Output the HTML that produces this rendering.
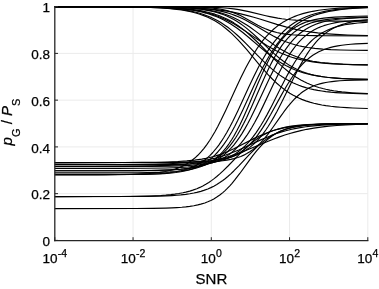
<!DOCTYPE html>
<html><head><meta charset="utf-8"><style>
html,body{margin:0;padding:0;background:#fff;}
body{width:379px;height:289px;overflow:hidden;}
svg{display:block;}
text{font-family:"Liberation Sans",Arial,Helvetica,sans-serif;fill:#000;stroke:#000;stroke-width:0.25px;}
</style></head><body>
<svg width="379" height="289" viewBox="0 0 379 289">
<rect width="379" height="289" fill="#fff"/>
<g stroke="#ebebeb" stroke-width="1" fill="none">
<line x1="54.8" y1="193.65" x2="367.80" y2="193.65"/>
<line x1="54.8" y1="146.90" x2="367.80" y2="146.90"/>
<line x1="54.8" y1="100.15" x2="367.80" y2="100.15"/>
<line x1="54.8" y1="53.40" x2="367.80" y2="53.40"/>
<line x1="54.8" y1="6.65" x2="367.80" y2="6.65"/>
<line x1="133.05" y1="240.40" x2="133.05" y2="6.65"/>
<line x1="211.30" y1="240.40" x2="211.30" y2="6.65"/>
<line x1="289.55" y1="240.40" x2="289.55" y2="6.65"/>
<line x1="367.80" y1="240.40" x2="367.80" y2="6.65"/>
</g>
<g stroke="#000" stroke-width="1.15" fill="none" stroke-linejoin="round">
<path d="M54.80,6.65 L367.80,6.65"/>
<path d="M54.80,6.65 L147.80,6.66 L178.80,6.72 L199.80,6.92 L207.80,7.10 L214.80,7.36 L221.80,7.77 L227.80,8.26 L233.80,8.94 L238.80,9.67 L243.80,10.57 L248.80,11.61 L265.80,15.69 L269.80,16.59 L273.80,17.40 L277.80,18.12 L281.80,18.74 L285.80,19.25 L290.80,19.77 L295.80,20.17 L301.80,20.51 L308.80,20.79 L315.80,20.96 L334.80,21.18 L367.80,21.25"/>
<path d="M54.80,6.65 L127.80,6.72 L147.80,6.82 L163.80,6.99 L177.80,7.27 L189.80,7.68 L200.80,8.27 L209.80,8.97 L217.80,9.82 L225.80,10.92 L233.80,12.34 L240.80,13.84 L246.80,15.33 L253.80,17.27 L259.80,19.06 L276.80,24.33 L285.80,26.90 L290.80,28.17 L295.80,29.33 L300.80,30.35 L305.80,31.25 L311.80,32.17 L317.80,32.92 L324.80,33.63 L331.80,34.18 L339.80,34.65 L347.80,34.99 L356.80,35.27 L367.80,35.49"/>
<path d="M54.80,6.65 L149.80,6.66 L178.80,6.75 L189.80,6.89 L197.80,7.10 L204.80,7.43 L210.80,7.87 L216.80,8.56 L219.80,9.02 L222.80,9.58 L225.80,10.26 L227.80,10.79 L230.80,11.70 L232.80,12.38 L236.80,13.96 L238.80,14.85 L241.80,16.31 L245.80,18.43 L257.80,25.16 L261.80,27.18 L264.80,28.54 L268.80,30.12 L272.80,31.43 L276.80,32.49 L280.80,33.32 L285.80,34.09 L291.80,34.73 L297.80,35.15 L305.80,35.48 L314.80,35.67 L325.80,35.79 L367.80,35.87"/>
<path d="M54.80,6.65 L136.80,6.70 L156.80,6.80 L170.80,6.98 L183.80,7.31 L193.80,7.78 L202.80,8.46 L206.80,8.89 L210.80,9.40 L214.80,10.02 L217.80,10.57 L221.80,11.42 L224.80,12.17 L228.80,13.31 L231.80,14.29 L234.80,15.39 L237.80,16.59 L242.80,18.85 L245.80,20.35 L248.80,21.94 L254.80,25.35 L268.80,33.62 L272.80,35.83 L276.80,37.88 L281.80,40.19 L285.80,41.81 L290.80,43.56 L295.80,45.01 L298.80,45.75 L301.80,46.40 L307.80,47.46 L314.80,48.38 L322.80,49.10 L330.80,49.58 L340.80,49.95 L352.80,50.20 L367.80,50.36"/>
<path d="M54.80,6.65 L134.80,6.73 L154.80,6.88 L169.80,7.14 L182.80,7.61 L188.80,7.96 L193.80,8.33 L198.80,8.81 L202.80,9.28 L206.80,9.85 L210.80,10.54 L214.80,11.37 L218.80,12.35 L222.80,13.50 L225.80,14.50 L229.80,16.02 L232.80,17.31 L235.80,18.73 L238.80,20.28 L243.80,23.17 L246.80,25.08 L249.80,27.09 L255.80,31.39 L266.80,39.65 L270.80,42.58 L274.80,45.37 L278.80,47.98 L283.80,50.94 L287.80,53.04 L289.80,54.00 L292.80,55.33 L297.80,57.26 L300.80,58.25 L303.80,59.13 L306.80,59.92 L309.80,60.60 L312.80,61.21 L316.80,61.89 L320.80,62.46 L324.80,62.94 L332.80,63.65 L342.80,64.22 L353.80,64.59 L367.80,64.85"/>
<path d="M54.80,6.65 L136.80,6.74 L156.80,6.91 L171.80,7.23 L178.80,7.49 L184.80,7.80 L190.80,8.22 L195.80,8.68 L200.80,9.27 L204.80,9.86 L208.80,10.58 L212.80,11.44 L216.80,12.48 L219.80,13.40 L223.80,14.81 L226.80,16.03 L230.80,17.91 L233.80,19.51 L236.80,21.28 L239.80,23.22 L242.80,25.35 L245.80,27.64 L248.80,30.10 L251.80,32.70 L256.80,37.28 L267.80,47.84 L271.80,51.58 L275.80,55.15 L279.80,58.47 L282.80,60.78 L284.80,62.23 L288.80,64.89 L290.80,66.10 L293.80,67.77 L295.80,68.79 L298.80,70.19 L301.80,71.42 L304.80,72.52 L307.80,73.49 L310.80,74.33 L313.80,75.07 L317.80,75.91 L320.80,76.44 L324.80,77.04 L328.80,77.53 L332.80,77.93 L337.80,78.34 L342.80,78.65 L353.80,79.11 L367.80,79.42"/>
<path d="M54.80,6.65 L102.80,6.70 L130.80,6.82 L150.80,7.07 L158.80,7.25 L166.80,7.52 L173.80,7.86 L180.80,8.31 L186.80,8.83 L191.80,9.39 L196.80,10.07 L201.80,10.93 L206.80,11.98 L210.80,12.99 L214.80,14.17 L218.80,15.55 L222.80,17.16 L226.80,19.00 L230.80,21.11 L233.80,22.87 L237.80,25.48 L240.80,27.62 L243.80,29.92 L246.80,32.39 L249.80,34.99 L252.80,37.73 L258.80,43.52 L270.80,55.67 L274.80,59.63 L279.80,64.37 L283.80,67.92 L288.80,72.00 L291.80,74.24 L293.80,75.64 L295.80,76.97 L298.80,78.83 L300.80,79.98 L303.80,81.57 L306.80,83.02 L309.80,84.32 L312.80,85.49 L315.80,86.53 L318.80,87.47 L322.80,88.55 L325.80,89.26 L329.80,90.07 L333.80,90.76 L337.80,91.34 L341.80,91.83 L346.80,92.33 L351.80,92.74 L356.80,93.06 L367.80,93.55"/>
<path d="M54.80,6.66 L96.80,6.69 L122.80,6.78 L141.80,6.97 L156.80,7.29 L169.80,7.82 L175.80,8.20 L180.80,8.59 L185.80,9.09 L189.80,9.57 L194.80,10.29 L198.80,10.99 L202.80,11.81 L206.80,12.77 L210.80,13.88 L213.80,14.82 L217.80,16.24 L220.80,17.43 L224.80,19.18 L227.80,20.63 L230.80,22.18 L233.80,23.85 L239.80,27.46 L245.80,31.38 L256.80,38.90 L261.80,42.24 L266.80,45.42 L270.80,47.80 L275.80,50.52 L280.80,52.94 L285.80,55.05 L288.80,56.17 L291.80,57.19 L294.80,58.10 L297.80,58.93 L300.80,59.66 L304.80,60.52 L308.80,61.25 L312.80,61.88 L316.80,62.40 L320.80,62.85 L329.80,63.60 L340.80,64.19 L352.80,64.58 L367.80,64.83"/>
<path d="M54.80,6.66 L99.80,6.70 L125.80,6.81 L144.80,7.05 L159.80,7.45 L166.80,7.75 L172.80,8.11 L178.80,8.57 L183.80,9.06 L188.80,9.68 L192.80,10.27 L197.80,11.18 L201.80,12.05 L205.80,13.07 L209.80,14.26 L213.80,15.64 L216.80,16.81 L220.80,18.57 L223.80,20.05 L227.80,22.24 L230.80,24.04 L233.80,25.98 L236.80,28.05 L239.80,30.25 L242.80,32.56 L248.80,37.45 L259.80,46.85 L264.80,51.03 L269.80,55.02 L273.80,57.99 L278.80,61.41 L283.80,64.44 L285.80,65.55 L288.80,67.09 L291.80,68.49 L294.80,69.77 L297.80,70.92 L300.80,71.95 L303.80,72.88 L307.80,73.96 L310.80,74.66 L314.80,75.48 L318.80,76.17 L322.80,76.75 L326.80,77.24 L331.80,77.74 L336.80,78.14 L341.80,78.46 L353.80,78.99 L367.80,79.33"/>
<path d="M54.80,6.66 L96.80,6.71 L122.80,6.84 L141.80,7.12 L149.80,7.33 L156.80,7.60 L163.80,7.96 L169.80,8.38 L175.80,8.93 L180.80,9.51 L185.80,10.24 L190.80,11.15 L194.80,12.02 L198.80,13.05 L202.80,14.26 L206.80,15.68 L210.80,17.32 L213.80,18.72 L217.80,20.81 L220.80,22.57 L224.80,25.17 L227.80,27.32 L230.80,29.63 L233.80,32.11 L236.80,34.73 L239.80,37.49 L245.80,43.35 L257.80,55.64 L262.80,60.64 L267.80,65.37 L271.80,68.89 L274.80,71.37 L276.80,72.92 L279.80,75.12 L281.80,76.50 L283.80,77.80 L286.80,79.61 L289.80,81.25 L292.80,82.75 L295.80,84.09 L298.80,85.30 L301.80,86.38 L305.80,87.64 L309.80,88.71 L313.80,89.62 L317.80,90.39 L321.80,91.03 L325.80,91.58 L330.80,92.14 L335.80,92.58 L340.80,92.94 L346.80,93.27 L352.80,93.52 L367.80,93.92"/>
<path d="M54.80,6.66 L97.80,6.72 L123.80,6.88 L142.80,7.20 L150.80,7.45 L157.80,7.76 L164.80,8.19 L170.80,8.69 L176.80,9.33 L181.80,10.02 L186.80,10.88 L190.80,11.71 L195.80,12.98 L199.80,14.19 L203.80,15.61 L207.80,17.28 L211.80,19.21 L214.80,20.85 L218.80,23.32 L221.80,25.38 L225.80,28.44 L228.80,30.96 L231.80,33.67 L234.80,36.57 L237.80,39.64 L240.80,42.87 L246.80,49.72 L258.80,64.06 L262.80,68.74 L267.80,74.31 L271.80,78.49 L274.80,81.42 L276.80,83.27 L279.80,85.89 L281.80,87.52 L283.80,89.07 L286.80,91.23 L289.80,93.21 L292.80,94.99 L295.80,96.61 L298.80,98.06 L301.80,99.35 L305.80,100.86 L309.80,102.16 L313.80,103.25 L317.80,104.18 L321.80,104.96 L325.80,105.62 L330.80,106.29 L335.80,106.83 L340.80,107.26 L346.80,107.66 L352.80,107.97 L359.80,108.23 L367.80,108.45"/>
<path d="M54.80,208.61 L135.80,208.54 L152.80,208.41 L165.80,208.14 L171.80,207.91 L176.80,207.64 L181.80,207.28 L185.80,206.89 L189.80,206.39 L193.80,205.74 L197.80,204.93 L200.80,204.17 L204.80,202.93 L207.80,201.80 L210.80,200.47 L213.80,198.91 L216.80,197.09 L219.80,195.00 L222.80,192.60 L224.80,190.83 L226.80,188.93 L229.80,185.81 L231.80,183.56 L234.80,179.97 L239.80,173.47 L248.80,161.06 L252.80,155.70 L256.80,150.66 L258.80,148.30 L260.80,146.07 L263.80,142.98 L265.80,141.09 L267.80,139.33 L269.80,137.72 L271.80,136.24 L274.80,134.26 L276.80,133.10 L279.80,131.55 L282.80,130.24 L285.80,129.12 L288.80,128.18 L291.80,127.39 L294.80,126.73 L298.80,126.01 L302.80,125.45 L307.80,124.93 L311.80,124.61 L316.80,124.31 L322.80,124.06 L328.80,123.88 L344.80,123.65 L367.80,123.55"/>
<path d="M54.80,196.57 L96.80,196.54 L119.80,196.46 L136.80,196.29 L149.80,195.97 L160.80,195.46 L165.80,195.10 L170.80,194.62 L174.80,194.14 L178.80,193.54 L182.80,192.80 L185.80,192.14 L189.80,191.09 L192.80,190.16 L196.80,188.69 L199.80,187.40 L202.80,185.94 L205.80,184.28 L208.80,182.43 L211.80,180.38 L213.80,178.89 L216.80,176.50 L219.80,173.91 L222.80,171.15 L227.80,166.24 L237.80,155.89 L241.80,151.85 L246.80,147.08 L250.80,143.59 L253.80,141.20 L255.80,139.72 L257.80,138.32 L260.80,136.40 L262.80,135.24 L265.80,133.65 L268.80,132.25 L271.80,131.01 L274.80,129.94 L278.80,128.72 L281.80,127.95 L285.80,127.09 L289.80,126.39 L293.80,125.83 L297.80,125.37 L302.80,124.92 L307.80,124.58 L313.80,124.28 L326.80,123.88 L343.80,123.66 L367.80,123.56"/>
<path d="M54.80,196.57 L128.80,196.49 L146.80,196.34 L159.80,196.07 L165.80,195.86 L171.80,195.56 L176.80,195.22 L180.80,194.87 L185.80,194.31 L189.80,193.73 L193.80,193.01 L196.80,192.36 L200.80,191.33 L203.80,190.40 L207.80,188.93 L210.80,187.64 L213.80,186.16 L216.80,184.48 L219.80,182.59 L222.80,180.48 L224.80,178.96 L227.80,176.49 L230.80,173.82 L233.80,170.97 L238.80,165.89 L248.80,155.22 L252.80,151.08 L256.80,147.17 L260.80,143.57 L263.80,141.11 L265.80,139.59 L267.80,138.16 L270.80,136.20 L272.80,135.02 L275.80,133.41 L277.80,132.44 L280.80,131.15 L283.80,130.03 L286.80,129.05 L289.80,128.22 L293.80,127.28 L296.80,126.70 L300.80,126.06 L304.80,125.54 L309.80,125.04 L314.80,124.66 L319.80,124.37 L331.80,123.95 L346.80,123.70 L367.80,123.58"/>
<path d="M54.80,162.56 L123.80,162.50 L141.80,162.41 L155.80,162.24 L167.80,161.95 L177.80,161.53 L186.80,160.92 L194.80,160.10 L201.80,159.08 L205.80,158.34 L208.80,157.69 L212.80,156.70 L215.80,155.86 L218.80,154.92 L221.80,153.88 L224.80,152.75 L227.80,151.52 L233.80,148.81 L238.80,146.35 L253.80,138.62 L258.80,136.23 L262.80,134.46 L267.80,132.48 L272.80,130.77 L277.80,129.32 L280.80,128.57 L283.80,127.91 L286.80,127.32 L290.80,126.65 L297.80,125.73 L305.80,124.99 L313.80,124.49 L323.80,124.10 L334.80,123.84 L348.80,123.68 L367.80,123.58"/>
<path d="M54.80,164.66 L120.80,164.56 L139.80,164.41 L154.80,164.17 L167.80,163.78 L178.80,163.23 L187.80,162.54 L192.80,162.03 L196.80,161.54 L200.80,160.98 L204.80,160.32 L208.80,159.55 L211.80,158.91 L215.80,157.95 L218.80,157.15 L222.80,155.96 L225.80,154.99 L231.80,152.82 L238.80,149.96 L244.80,147.29 L260.80,139.88 L265.80,137.70 L270.80,135.66 L275.80,133.81 L280.80,132.15 L285.80,130.70 L291.80,129.22 L294.80,128.59 L298.80,127.83 L305.80,126.75 L313.80,125.82 L321.80,125.15 L330.80,124.61 L340.80,124.22 L352.80,123.93 L367.80,123.73"/>
<path d="M54.80,166.52 L92.80,166.47 L118.80,166.36 L137.80,166.16 L153.80,165.84 L167.80,165.35 L179.80,164.67 L189.80,163.84 L194.80,163.30 L199.80,162.67 L207.80,161.42 L211.80,160.67 L215.80,159.83 L219.80,158.90 L223.80,157.87 L227.80,156.74 L231.80,155.51 L238.80,153.13 L245.80,150.49 L251.80,148.08 L268.80,141.01 L273.80,139.03 L278.80,137.15 L284.80,135.07 L289.80,133.50 L294.80,132.08 L300.80,130.59 L306.80,129.31 L313.80,128.08 L320.80,127.08 L328.80,126.19 L336.80,125.50 L345.80,124.94 L355.80,124.49 L367.80,124.14"/>
<path d="M54.80,174.71 L96.80,174.66 L119.80,174.49 L128.80,174.33 L135.80,174.13 L142.80,173.84 L148.80,173.47 L154.80,172.94 L159.80,172.35 L164.80,171.55 L169.80,170.50 L173.80,169.43 L177.80,168.09 L179.80,167.31 L181.80,166.44 L184.80,164.95 L186.80,163.83 L188.80,162.59 L191.80,160.48 L194.80,158.06 L197.80,155.29 L200.80,152.14 L203.80,148.58 L206.80,144.61 L209.80,140.20 L211.80,137.03 L214.80,131.92 L217.80,126.42 L220.80,120.58 L225.80,110.22 L236.80,86.33 L240.80,77.86 L243.80,71.76 L245.80,67.85 L248.80,62.23 L250.80,58.67 L253.80,53.62 L256.80,48.94 L258.80,46.02 L261.80,41.95 L264.80,38.23 L267.80,34.85 L270.80,31.80 L273.80,29.04 L276.80,26.57 L278.80,25.06 L280.80,23.66 L282.80,22.36 L284.80,21.16 L288.80,19.01 L292.80,17.17 L294.80,16.35 L297.80,15.24 L302.80,13.66 L307.80,12.36 L312.80,11.31 L318.80,10.29 L324.80,9.50 L331.80,8.78 L339.80,8.19 L347.80,7.76 L356.80,7.41 L367.80,7.14"/>
<path d="M54.80,174.71 L103.80,174.67 L128.80,174.53 L138.80,174.38 L146.80,174.18 L153.80,173.90 L159.80,173.56 L165.80,173.07 L170.80,172.52 L175.80,171.79 L180.80,170.81 L183.80,170.08 L185.80,169.53 L189.80,168.21 L193.80,166.59 L196.80,165.12 L198.80,164.02 L200.80,162.80 L203.80,160.72 L206.80,158.34 L209.80,155.60 L212.80,152.50 L215.80,148.99 L218.80,145.06 L221.80,140.70 L223.80,137.55 L226.80,132.49 L229.80,127.03 L232.80,121.22 L237.80,110.91 L248.80,87.03 L253.80,76.47 L256.80,70.43 L258.80,66.55 L262.80,59.23 L265.80,54.15 L268.80,49.43 L270.80,46.48 L273.80,42.37 L275.80,39.83 L278.80,36.30 L281.80,33.11 L284.80,30.22 L287.80,27.63 L289.80,26.04 L291.80,24.57 L294.80,22.56 L298.80,20.22 L302.80,18.20 L306.80,16.48 L310.80,15.01 L315.80,13.47 L320.80,12.21 L325.80,11.18 L331.80,10.19 L337.80,9.42 L343.80,8.81 L350.80,8.27 L358.80,7.82 L367.80,7.46"/>
<path d="M54.80,174.71 L105.80,174.68 L131.80,174.54 L141.80,174.41 L149.80,174.22 L156.80,173.97 L163.80,173.59 L169.80,173.12 L175.80,172.46 L180.80,171.71 L185.80,170.71 L188.80,169.96 L190.80,169.39 L194.80,168.04 L196.80,167.25 L198.80,166.38 L201.80,164.88 L203.80,163.75 L205.80,162.50 L208.80,160.38 L211.80,157.94 L214.80,155.15 L217.80,151.98 L220.80,148.41 L223.80,144.41 L226.80,139.99 L228.80,136.80 L231.80,131.68 L234.80,126.16 L237.80,120.30 L242.80,109.93 L253.80,86.03 L257.80,77.58 L260.80,71.49 L262.80,67.58 L266.80,60.18 L269.80,55.04 L271.80,51.80 L273.80,48.73 L276.80,44.43 L278.80,41.77 L281.80,38.07 L284.80,34.71 L287.80,31.67 L290.80,28.92 L292.80,27.25 L294.80,25.70 L297.80,23.57 L301.80,21.08 L305.80,18.94 L309.80,17.11 L313.80,15.54 L318.80,13.91 L323.80,12.57 L328.80,11.47 L333.80,10.58 L339.80,9.72 L345.80,9.05 L352.80,8.45 L359.80,8.00 L367.80,7.62"/>
<path d="M54.80,172.85 L110.80,172.82 L137.80,172.71 L155.80,172.43 L162.80,172.21 L169.80,171.88 L175.80,171.46 L181.80,170.85 L186.80,170.16 L191.80,169.22 L195.80,168.25 L199.80,167.03 L203.80,165.50 L206.80,164.11 L208.80,163.05 L210.80,161.88 L213.80,159.86 L216.80,157.51 L219.80,154.80 L222.80,151.67 L225.80,148.10 L228.80,144.05 L231.80,139.51 L233.80,136.20 L236.80,130.83 L239.80,124.98 L242.80,118.70 L244.80,114.31 L247.80,107.47 L257.80,83.80 L261.80,74.63 L265.80,66.00 L267.80,61.95 L269.80,58.09 L272.80,52.71 L274.80,49.40 L276.80,46.32 L278.80,43.45 L280.80,40.80 L282.80,38.36 L284.80,36.13 L287.80,33.14 L290.80,30.54 L293.80,28.31 L296.80,26.39 L299.80,24.75 L302.80,23.36 L306.80,21.83 L310.80,20.61 L314.80,19.63 L318.80,18.86 L323.80,18.12 L328.80,17.57 L334.80,17.09 L341.80,16.72 L348.80,16.47 L357.80,16.27 L367.80,16.15"/>
<path d="M54.80,170.74 L111.80,170.72 L138.80,170.62 L157.80,170.35 L164.80,170.15 L171.80,169.84 L177.80,169.45 L183.80,168.90 L188.80,168.26 L193.80,167.41 L198.80,166.28 L202.80,165.11 L206.80,163.65 L209.80,162.33 L211.80,161.32 L213.80,160.20 L216.80,158.28 L218.80,156.84 L220.80,155.24 L223.80,152.54 L226.80,149.44 L229.80,145.92 L232.80,141.93 L235.80,137.48 L237.80,134.24 L240.80,128.99 L243.80,123.29 L246.80,117.18 L251.80,106.29 L260.80,85.67 L264.80,76.71 L268.80,68.21 L270.80,64.20 L272.80,60.38 L275.80,55.01 L277.80,51.68 L279.80,48.58 L281.80,45.68 L283.80,42.99 L286.80,39.35 L288.80,37.16 L291.80,34.23 L294.80,31.68 L297.80,29.48 L300.80,27.59 L303.80,25.97 L306.80,24.59 L310.80,23.06 L314.80,21.84 L318.80,20.87 L322.80,20.09 L327.80,19.34 L332.80,18.79 L337.80,18.37 L343.80,18.01 L350.80,17.72 L358.80,17.51 L367.80,17.37"/>
<path d="M54.80,170.74 L111.80,170.71 L139.80,170.59 L150.80,170.46 L159.80,170.27 L166.80,170.05 L173.80,169.71 L180.80,169.22 L186.80,168.61 L191.80,167.92 L196.80,167.03 L201.80,165.85 L205.80,164.66 L209.80,163.19 L211.80,162.33 L213.80,161.39 L215.80,160.34 L217.80,159.19 L220.80,157.24 L222.80,155.78 L224.80,154.18 L227.80,151.50 L230.80,148.46 L233.80,145.03 L236.80,141.19 L239.80,136.93 L241.80,133.86 L244.80,128.89 L247.80,123.53 L250.80,117.81 L255.80,107.62 L266.80,83.94 L270.80,75.56 L274.80,67.63 L278.80,60.28 L281.80,55.22 L283.80,52.07 L285.80,49.12 L287.80,46.35 L289.80,43.77 L291.80,41.37 L293.80,39.15 L296.80,36.15 L299.80,33.50 L302.80,31.18 L305.80,29.17 L308.80,27.42 L311.80,25.91 L315.80,24.22 L318.80,23.16 L322.80,21.99 L326.80,21.04 L330.80,20.27 L335.80,19.52 L340.80,18.95 L346.80,18.44 L352.80,18.08 L359.80,17.78 L367.80,17.56"/>
<path d="M54.80,168.40 L116.80,168.38 L145.80,168.27 L165.80,167.99 L173.80,167.75 L180.80,167.44 L187.80,166.97 L193.80,166.39 L198.80,165.73 L203.80,164.87 L208.80,163.73 L212.80,162.58 L216.80,161.15 L218.80,160.32 L220.80,159.41 L222.80,158.39 L224.80,157.27 L227.80,155.37 L229.80,153.94 L231.80,152.38 L234.80,149.76 L237.80,146.78 L240.80,143.41 L243.80,139.64 L246.80,135.45 L248.80,132.42 L251.80,127.54 L254.80,122.27 L257.80,116.64 L262.80,106.62 L272.80,85.51 L276.80,77.26 L280.80,69.41 L284.80,62.13 L287.80,57.11 L289.80,53.99 L291.80,51.06 L293.80,48.31 L295.80,45.75 L297.80,43.37 L299.80,41.16 L302.80,38.18 L304.80,36.39 L307.80,33.99 L310.80,31.90 L313.80,30.08 L316.80,28.52 L318.80,27.60 L320.80,26.77 L323.80,25.67 L327.80,24.45 L331.80,23.47 L335.80,22.68 L339.80,22.04 L344.80,21.42 L349.80,20.95 L354.80,20.59 L360.80,20.28 L367.80,20.02"/>
<path d="M54.80,166.53 L119.80,166.51 L149.80,166.41 L170.80,166.13 L178.80,165.91 L185.80,165.62 L192.80,165.19 L199.80,164.57 L205.80,163.81 L210.80,162.97 L215.80,161.88 L219.80,160.78 L223.80,159.43 L227.80,157.79 L229.80,156.84 L231.80,155.79 L233.80,154.65 L235.80,153.39 L237.80,152.01 L239.80,150.51 L242.80,148.00 L244.80,146.14 L246.80,144.14 L249.80,140.83 L252.80,137.15 L255.80,133.09 L257.80,130.17 L260.80,125.49 L263.80,120.46 L266.80,115.11 L271.80,105.65 L281.80,85.81 L285.80,78.04 L289.80,70.63 L293.80,63.73 L295.80,60.50 L297.80,57.43 L299.80,54.52 L301.80,51.78 L303.80,49.21 L305.80,46.81 L307.80,44.58 L310.80,41.52 L312.80,39.68 L315.80,37.18 L318.80,34.99 L321.80,33.07 L324.80,31.40 L327.80,29.95 L330.80,28.69 L333.80,27.61 L336.80,26.68 L340.80,25.64 L344.80,24.80 L348.80,24.11 L352.80,23.56 L357.80,23.01 L362.80,22.59 L367.80,22.28"/>
<path d="M54.80,164.66 L124.80,164.65 L154.80,164.58 L174.80,164.40 L182.80,164.23 L189.80,164.01 L196.80,163.67 L202.80,163.24 L207.80,162.74 L212.80,162.09 L217.80,161.21 L221.80,160.30 L225.80,159.17 L229.80,157.76 L231.80,156.94 L233.80,156.02 L236.80,154.46 L238.80,153.27 L240.80,151.97 L243.80,149.77 L246.80,147.25 L249.80,144.38 L252.80,141.15 L255.80,137.54 L257.80,134.92 L260.80,130.69 L262.80,127.67 L265.80,122.86 L270.80,114.28 L280.80,96.13 L283.80,90.80 L287.80,84.02 L291.80,77.75 L293.80,74.84 L295.80,72.09 L297.80,69.50 L299.80,67.09 L301.80,64.84 L303.80,62.76 L305.80,60.84 L307.80,59.08 L309.80,57.46 L312.80,55.30 L315.80,53.43 L318.80,51.82 L321.80,50.44 L324.80,49.26 L327.80,48.25 L330.80,47.40 L333.80,46.68 L337.80,45.89 L341.80,45.26 L345.80,44.76 L350.80,44.28 L355.80,43.92 L361.80,43.61 L367.80,43.39"/>
<path d="M54.80,162.56 L128.80,162.54 L159.80,162.46 L181.80,162.21 L189.80,162.00 L196.80,161.73 L203.80,161.33 L210.80,160.73 L216.80,160.00 L221.80,159.18 L226.80,158.11 L230.80,157.01 L234.80,155.67 L238.80,154.01 L240.80,153.05 L242.80,151.99 L245.80,150.20 L247.80,148.85 L249.80,147.38 L252.80,144.90 L254.80,143.06 L256.80,141.07 L259.80,137.76 L262.80,134.06 L265.80,129.97 L267.80,127.01 L270.80,122.25 L273.80,117.13 L276.80,111.67 L281.80,101.97 L290.80,83.66 L294.80,75.67 L298.80,68.03 L301.80,62.64 L303.80,59.23 L305.80,55.98 L307.80,52.91 L309.80,50.01 L311.80,47.30 L313.80,44.76 L315.80,42.39 L317.80,40.20 L319.80,38.18 L322.80,35.44 L324.80,33.80 L327.80,31.60 L329.80,30.29 L332.80,28.55 L335.80,27.05 L338.80,25.75 L341.80,24.64 L344.80,23.69 L347.80,22.88 L351.80,21.98 L354.80,21.42 L358.80,20.81 L362.80,20.31 L367.80,19.83"/>
<path d="M54.80,162.56 L163.80,162.53 L182.80,162.44 L196.80,162.25 L202.80,162.09 L208.80,161.84 L213.80,161.55 L218.80,161.14 L222.80,160.70 L226.80,160.12 L230.80,159.37 L233.80,158.67 L237.80,157.51 L240.80,156.43 L243.80,155.14 L246.80,153.61 L249.80,151.81 L252.80,149.72 L255.80,147.30 L257.80,145.50 L259.80,143.55 L262.80,140.34 L264.80,138.02 L267.80,134.28 L269.80,131.65 L272.80,127.53 L280.80,116.14 L283.80,111.97 L287.80,106.71 L290.80,103.07 L292.80,100.82 L294.80,98.72 L296.80,96.77 L298.80,94.97 L300.80,93.32 L302.80,91.81 L304.80,90.45 L306.80,89.22 L308.80,88.11 L311.80,86.67 L313.80,85.83 L316.80,84.75 L319.80,83.85 L322.80,83.11 L325.80,82.49 L328.80,81.98 L331.80,81.56 L335.80,81.12 L339.80,80.78 L344.80,80.47 L354.80,80.08 L367.80,79.85"/>
</g>
<g stroke="#262626" stroke-width="1.3" fill="none">
<line x1="54.8" y1="6.05" x2="54.8" y2="241.35"/>
<line x1="54.15" y1="240.7" x2="368.40" y2="240.7"/>
</g>
<g stroke="#262626" stroke-width="1.0" fill="none">
<line x1="54.8" y1="240.40" x2="58.00" y2="240.40"/>
<line x1="54.8" y1="193.65" x2="58.00" y2="193.65"/>
<line x1="54.8" y1="146.90" x2="58.00" y2="146.90"/>
<line x1="54.8" y1="100.15" x2="58.00" y2="100.15"/>
<line x1="54.8" y1="53.40" x2="58.00" y2="53.40"/>
<line x1="54.8" y1="6.65" x2="58.00" y2="6.65"/>
<line x1="54.80" y1="240.7" x2="54.80" y2="237.20"/>
<line x1="133.05" y1="240.7" x2="133.05" y2="237.20"/>
<line x1="211.30" y1="240.7" x2="211.30" y2="237.20"/>
<line x1="289.55" y1="240.7" x2="289.55" y2="237.20"/>
<line x1="367.80" y1="240.7" x2="367.80" y2="237.20"/>
</g>
<g font-size="13.5">
<text x="50" y="246.00" text-anchor="end">0</text>
<text x="50" y="199.25" text-anchor="end">0.2</text>
<text x="50" y="152.50" text-anchor="end">0.4</text>
<text x="50" y="105.75" text-anchor="end">0.6</text>
<text x="50" y="59.00" text-anchor="end">0.8</text>
<text x="50" y="12.25" text-anchor="end">1</text>
<text x="54.80" y="262.8" text-anchor="middle">10<tspan font-size="10.5" dy="-6.2">-4</tspan></text>
<text x="133.05" y="262.8" text-anchor="middle">10<tspan font-size="10.5" dy="-6.2">-2</tspan></text>
<text x="211.30" y="262.8" text-anchor="middle">10<tspan font-size="10.5" dy="-6.2">0</tspan></text>
<text x="289.55" y="262.8" text-anchor="middle">10<tspan font-size="10.5" dy="-6.2">2</tspan></text>
<text x="367.80" y="262.8" text-anchor="middle">10<tspan font-size="10.5" dy="-6.2">4</tspan></text>
<text x="211.4" y="283.8" text-anchor="middle" font-size="15">SNR</text>
</g>
<text transform="translate(12,122) rotate(-90)" text-anchor="middle" font-size="15"><tspan font-style="italic">p</tspan><tspan font-size="11" dy="7.5">G</tspan><tspan dy="-7.5"> / </tspan><tspan font-style="italic">P</tspan><tspan font-size="11" dy="7.5">S</tspan></text>
</svg>
</body></html>
